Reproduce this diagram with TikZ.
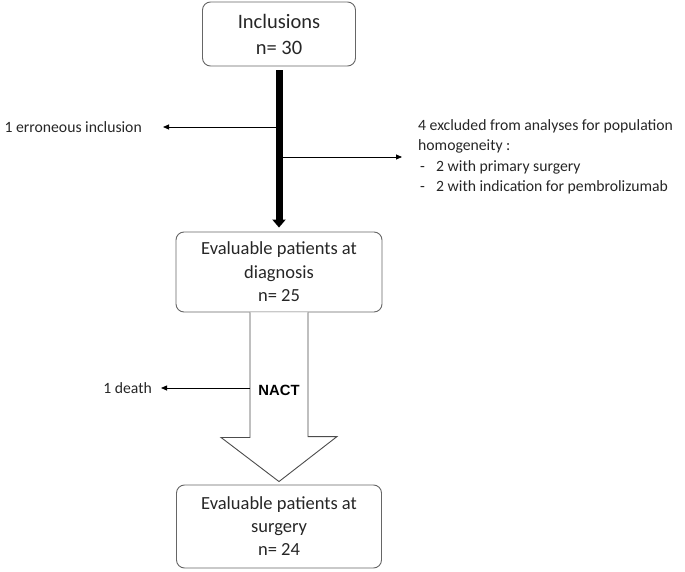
\documentclass[tikz,border=0pt]{standalone}
\usepackage{fontspec}
\setmainfont{Carlito}
\newfontfamily\arialfont{Liberation Sans}
\usetikzlibrary{arrows.meta}

\begin{document}
\begin{tikzpicture}[
  x=1pt, y=-1pt,
  >={Triangle[length=6pt,width=5pt]},
  font=\fontsize{15.7}{20.5}\selectfont,
  every node/.style={text=black!85},
  box/.style={draw=black!60, line width=0.9pt, rounded corners=8pt, align=center, inner sep=0pt},
  side/.style={align=left, inner sep=0pt},
  every edge/.style={draw, ->, line width=0.8pt}
]
\useasboundingbox (0,0) rectangle (685,572);
\node[box, minimum width=153pt, minimum height=64pt, font=\fontsize{20.5}{26}\selectfont] (incl) at (279,34) {Inclusions\\n= 30};
\node[box, minimum width=206pt, minimum height=80pt, font=\fontsize{18.5}{23.5}\selectfont] (diag) at (279,272) {Evaluable patients at\\diagnosis\\n= 25};
\node[box, minimum width=205pt, minimum height=83pt, font=\fontsize{18.5}{23}\selectfont] (surg) at (279,526.5) {Evaluable patients at\\surgery\\n= 24};
\node[side, anchor=east] (err) at (142,127) {1 erroneous inclusion};
\node[side, anchor=west] (excl) at (418,157) {4 excluded from analyses for population\\homogeneity :\\\makebox[18pt][l]{\hspace{2pt}-}2 with primary surgery\\\makebox[18pt][l]{\hspace{2pt}-}2 with indication for pembrolizumab};
\node[side, anchor=east] (death) at (152,388) {1 death};
% large NACT arrow
\draw[draw=black!70, line width=0.9pt, fill=white]
  ([xshift=-29pt]diag.south) -- ++(0,125) -- ++(-29,0) -- ([yshift=3pt]surg.north)
  -- ++(58,-45) -- ++(-29,0) -- ([xshift=29pt]diag.south);
\node[font=\arialfont\bfseries\fontsize{14.8}{18}\selectfont, text=black] (nact) at (279,390) {NACT};
\coordinate (b1) at (279,127);
\coordinate (b2) at (279,157);
\coordinate (b3) at (250,388);
\path[->]
  (b1) edge[shorten >=21pt] (err.east)
  (b2) edge[shorten >=16pt] (excl.west)
  (b3) edge[shorten >=9pt] (death.east);
\draw[line width=7pt, -{Triangle[width=13pt,length=8pt]}, shorten <=4pt, shorten >=4pt] (incl) -- (diag);
\end{tikzpicture}
\end{document}
